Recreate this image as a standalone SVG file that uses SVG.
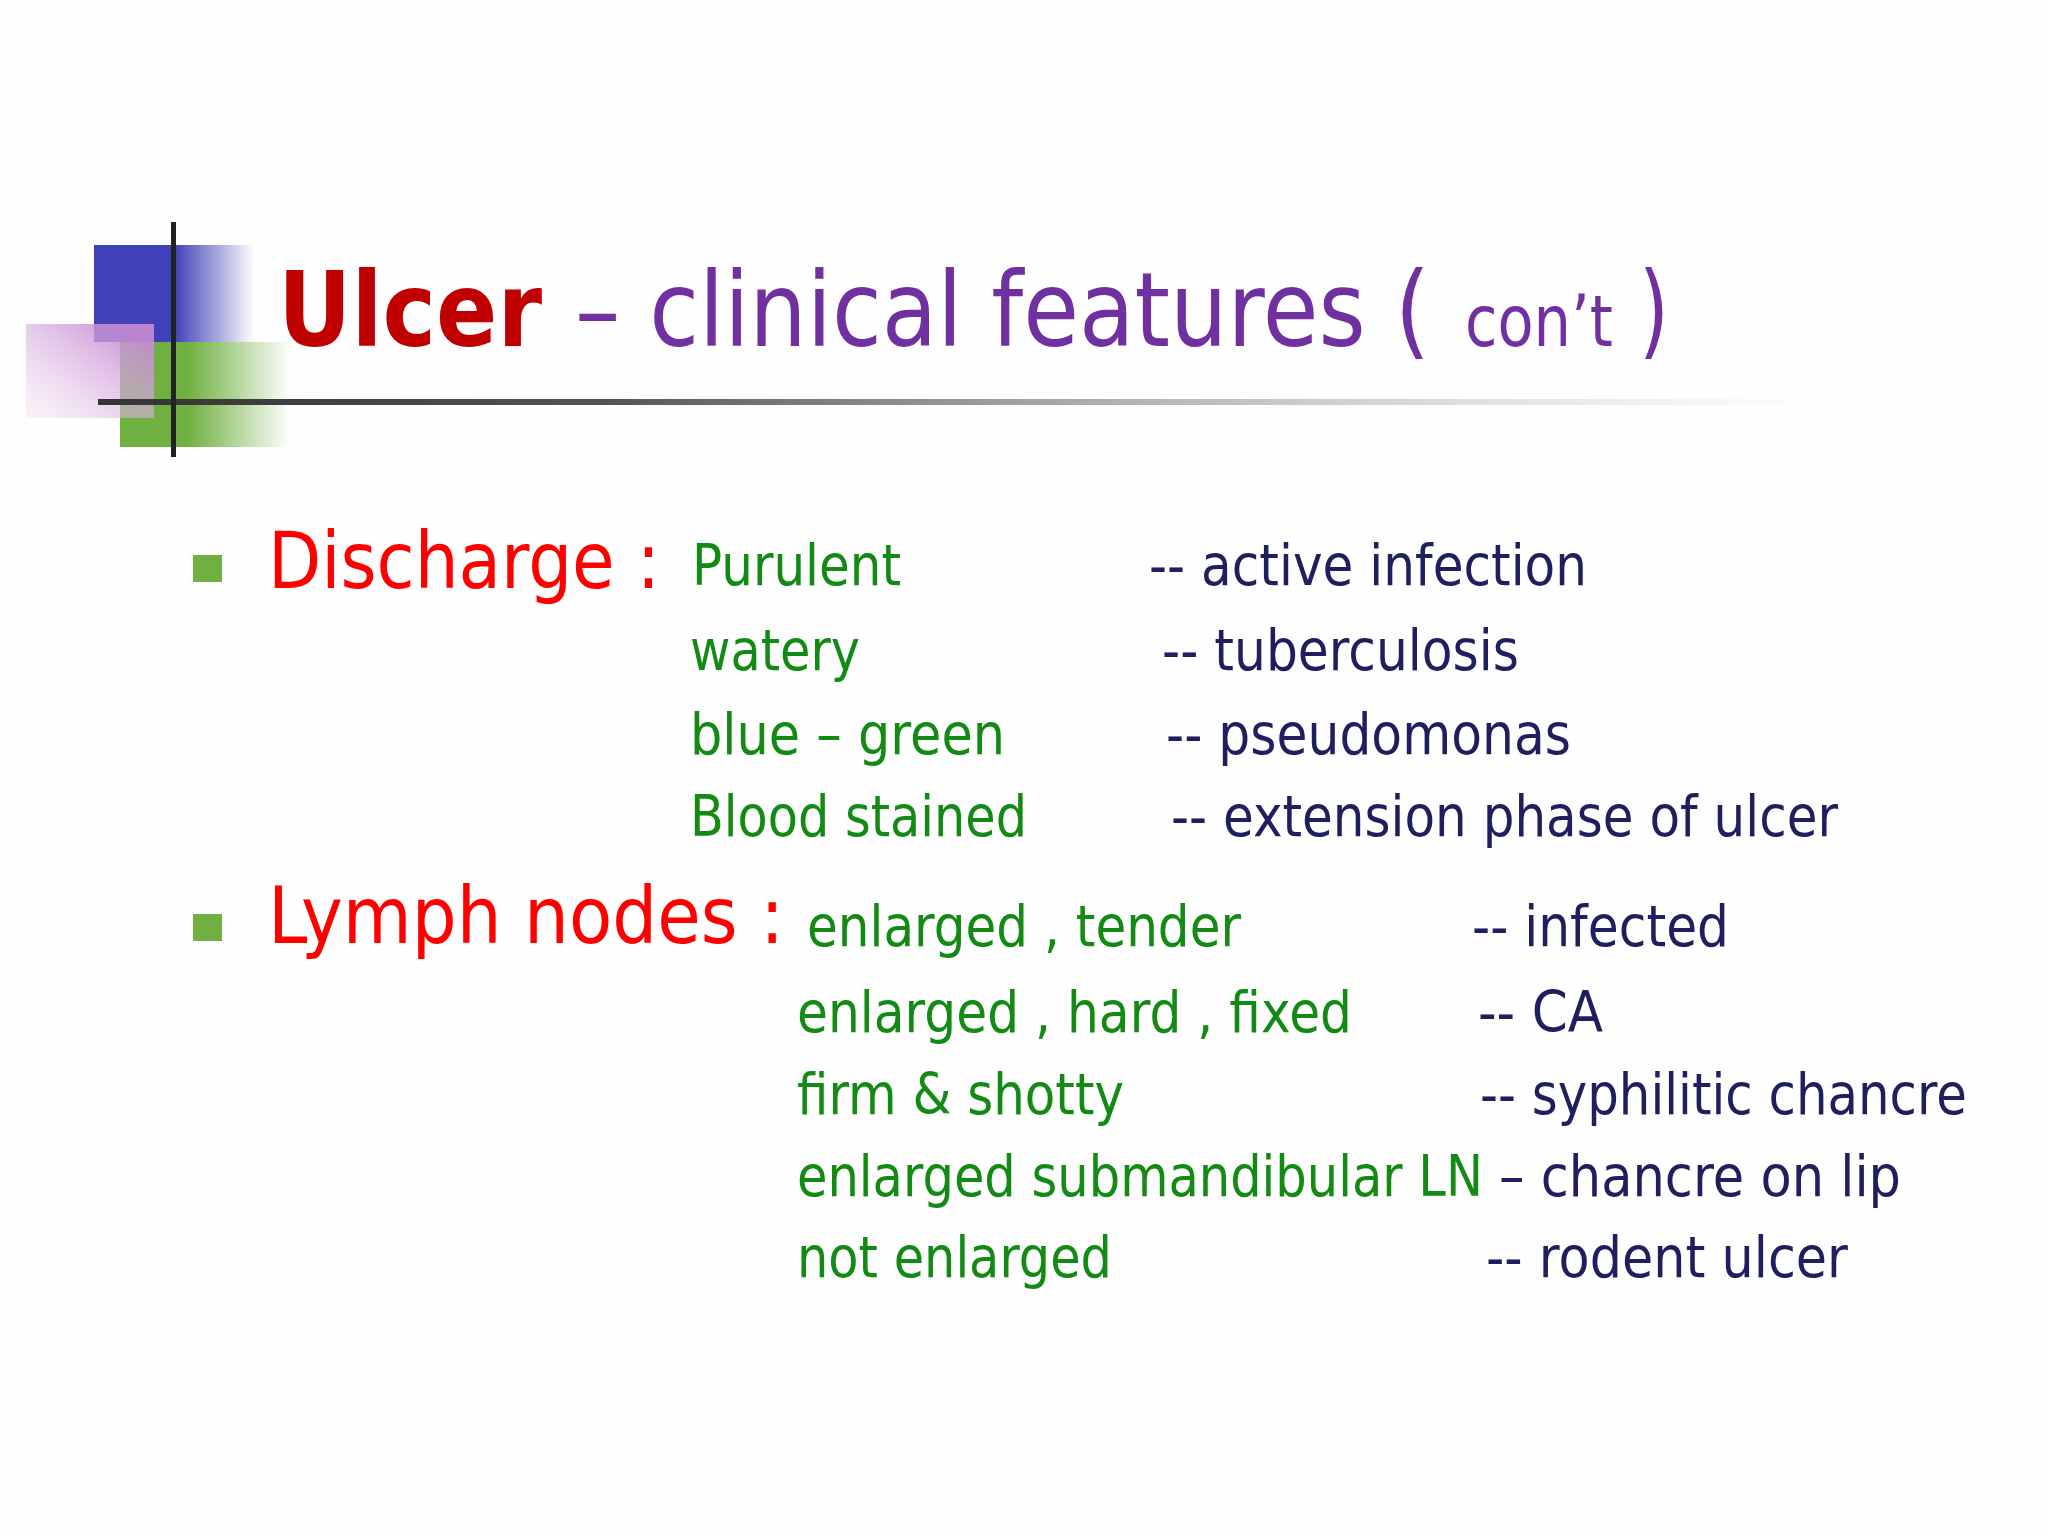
<svg xmlns="http://www.w3.org/2000/svg" width="2048" height="1536" viewBox="0 0 2048 1536">
<style>
text{font-family:"DejaVu Sans","Liberation Sans",sans-serif}
.g{fill:#138A13;font-size:57px}
.n{fill:#1F1F5F;font-size:57px}
.h{fill:#FF0000;font-size:78px}
.p{fill:#7030A0}
</style>
<defs>
<linearGradient id="bl" x1="0" x2="1"><stop offset="0.5" stop-color="#4040B8"/><stop offset="1" stop-color="#4040B8" stop-opacity="0"/></linearGradient>
<linearGradient id="gr" x1="0" x2="1"><stop offset="0.4" stop-color="#70B040"/><stop offset="1" stop-color="#70B040" stop-opacity="0"/></linearGradient>
<linearGradient id="pk" x1="1" y1="0" x2="0" y2="1"><stop offset="0" stop-color="#C080D0"/><stop offset="1" stop-color="#F0D8F0" stop-opacity="0.3"/></linearGradient>
<linearGradient id="ln" x1="0" x2="1"><stop offset="0" stop-color="#333"/><stop offset="0.3" stop-color="#555"/><stop offset="1" stop-color="#aaa" stop-opacity="0"/></linearGradient>
</defs>
<rect width="2048" height="1536" fill="#FEFEFE"/>
<g id="logo">
<rect x="94" y="245" width="160" height="97" fill="url(#bl)"/>
<rect x="120" y="342" width="170" height="105" fill="url(#gr)"/>
<rect x="26" y="324" width="128" height="94" fill="url(#pk)"/>
<rect x="98" y="399" width="1717" height="6" fill="url(#ln)"/>
<rect x="171" y="222" width="5" height="235" fill="#222"/>
</g>
<g id="title" font-size="104">
<text x="278" y="346" font-weight="bold" fill="#C00000" textLength="264" lengthAdjust="spacingAndGlyphs">Ulcer</text>
<text x="575" y="346" class="p" textLength="855" lengthAdjust="spacingAndGlyphs">– clinical features (</text>
<text x="1465" y="346" class="p" font-size="72" textLength="148" lengthAdjust="spacingAndGlyphs">con’t</text>
<text x="1639" y="346" class="p" textLength="30" lengthAdjust="spacingAndGlyphs">)</text>
</g>
<g id="discharge">
<rect x="193" y="555" width="29" height="27" fill="#70B040"/>
<text x="268" y="588" class="h" textLength="392" lengthAdjust="spacingAndGlyphs">Discharge :</text>
<text x="692" y="585" class="g" textLength="209" lengthAdjust="spacingAndGlyphs">Purulent</text>
<text x="690" y="670" class="g" textLength="170" lengthAdjust="spacingAndGlyphs">watery</text>
<text x="690" y="754" class="g" textLength="315" lengthAdjust="spacingAndGlyphs">blue – green</text>
<text x="690" y="836" class="g" textLength="337" lengthAdjust="spacingAndGlyphs">Blood stained</text>
<text x="1149" y="585" class="n" textLength="438" lengthAdjust="spacingAndGlyphs">-- active infection</text>
<text x="1162" y="670" class="n" textLength="357" lengthAdjust="spacingAndGlyphs">-- tuberculosis</text>
<text x="1166" y="754" class="n" textLength="405" lengthAdjust="spacingAndGlyphs">-- pseudomonas</text>
<text x="1171" y="836" class="n" textLength="667" lengthAdjust="spacingAndGlyphs">-- extension phase of ulcer</text>
</g>
<g id="lymph">
<rect x="193" y="914" width="29" height="27" fill="#70B040"/>
<text x="268" y="943" class="h" textLength="516" lengthAdjust="spacingAndGlyphs">Lymph nodes :</text>
<text x="807" y="946" class="g" textLength="434" lengthAdjust="spacingAndGlyphs">enlarged , tender</text>
<text x="797" y="1032" class="g" textLength="555" lengthAdjust="spacingAndGlyphs">enlarged , hard , fixed</text>
<text x="797" y="1114" class="g" textLength="327" lengthAdjust="spacingAndGlyphs">firm &amp; shotty</text>
<text x="797" y="1196" class="g" textLength="686" lengthAdjust="spacingAndGlyphs">enlarged submandibular LN</text>
<text x="797" y="1277" class="g" textLength="315" lengthAdjust="spacingAndGlyphs">not enlarged</text>
<text x="1472" y="946" class="n" textLength="257" lengthAdjust="spacingAndGlyphs">-- infected</text>
<text x="1478" y="1032" class="n" textLength="125" lengthAdjust="spacingAndGlyphs">-- CA</text>
<text x="1480" y="1114" class="n" textLength="487" lengthAdjust="spacingAndGlyphs">-- syphilitic chancre</text>
<text x="1499" y="1196" class="n" textLength="402" lengthAdjust="spacingAndGlyphs">– chancre on lip</text>
<text x="1486" y="1277" class="n" textLength="362" lengthAdjust="spacingAndGlyphs">-- rodent ulcer</text>
</g>
</svg>
